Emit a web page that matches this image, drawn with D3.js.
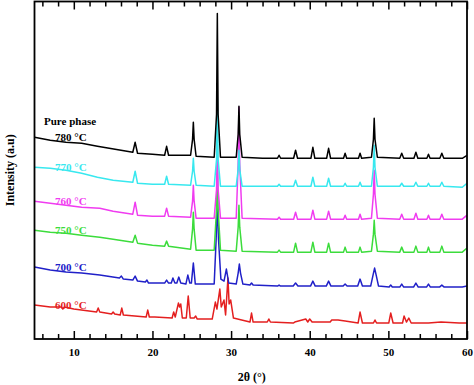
<!DOCTYPE html>
<html>
<head>
<meta charset="utf-8">
<script src="https://cdn.jsdelivr.net/npm/d3@7"></script>
<style>
  html, body { margin: 0; padding: 0; background: #fff; }
  svg { display: block; }
  text { font-family: "Liberation Serif", "Times New Roman", serif; font-weight: bold; }
</style>
</head>
<body>
<svg id="chart" width="474" height="385"></svg>
<script>
// ---- data: 2θ (degrees) vs intensity (a.u., stacked with offsets) ----
const seriesNames = ["600 °C", "700 °C", "750 °C", "760 °C", "770 °C", "780 °C"];
const seriesColors = ["#e41f1f", "#2020c8", "#3cdc3c", "#f03cf0", "#38e8ef", "#000000"];
const topNote = "Pure phase";
const xMajorTicks = [10, 20, 30, 40, 50, 60];
const xMinorTicks = [6, 8, 12, 14, 16, 18, 22, 24, 26, 28, 32, 34, 36, 38, 42, 44, 46, 48, 52, 54, 56, 58];
const xTitle = "2θ (°)";
const yTitle = "Intensity (a.u)";

const red600 = [[5,34],[7,32],[8.4,32],[8.6,30],[8.8,32],[10,30],[12.9,27],[13.1,31],[13.3,27],[14.8,25],[15.0,27],[15.2,25],[15.9,24],[16.1,31],[16.3,24],[19.2,22],[19.4,29],[19.6,22],[20.3,22],[22.5,21],[22.7,27],[22.9,22],[23.3,36],[23.45,32],[23.6,35],[23.8,21],[24.3,21],[24.55,43],[24.8,21],[25.3,21],[25.5,23],[25.7,20],[27.6,20],[28.0,37],[28.2,30],[28.57,50],[28.75,32],[28.85,34],[29.1,39],[29.3,24],[29.6,61],[29.75,35],[29.95,39],[30.3,21],[32.4,17],[32.6,26],[32.8,17],[34.6,17],[34.8,20],[35.0,17],[37.9,16],[38.1,17],[39.5,20],[39.75,17],[40.0,20],[40.3,17],[42.6,17],[42.8,19],[43.6,19],[44.5,18],[46.15,16],[46.4,27],[46.7,16],[48.1,16],[48.3,19],[48.5,16],[50.05,16],[50.3,26],[50.6,16],[51.8,16],[52.0,23],[52.3,17],[52.6,21],[52.9,16],[55.1,16],[56.7,17],[59,16],[60,16]];

const blue700 = [[5,72],[7,69],[9,67],[11,66],[13.3,64],[15.8,61],[16.05,63],[16.3,60],[17.5,59],[17.8,63],[18.1,58],[19.1,57],[19.3,59],[19.5,56],[21.55,56],[21.8,59],[22.05,56],[22.4,56],[22.6,61],[22.85,56],[23.1,56],[23.35,62],[23.6,56],[24.25,55],[24.5,64],[24.75,56],[24.95,56],[25.2,76],[25.45,55],[27.85,55],[28.1,100],[28.25,139],[28.4,100],[28.7,60],[29.1,58],[29.4,70],[29.7,56],[30.65,55],[30.9,66],[31.05,75],[31.2,66],[31.5,55],[32.4,54],[32.6,56],[32.8,54],[35.9,53],[36.1,54],[36.3,53],[37.9,53],[38.2,56],[38.5,53],[40.1,53],[40.4,58],[40.7,53],[42.1,53],[42.4,58],[42.7,53],[44.25,53],[44.5,55],[44.75,53],[46.1,53],[46.4,60],[46.7,53],[47.75,53],[48.05,64],[48.25,71],[48.45,64],[48.75,53],[50.1,52],[50.3,54],[50.5,52],[51.45,52],[51.7,55],[51.95,52],[53.2,52],[53.5,56],[53.8,52],[54.85,52],[55.1,55],[55.35,52],[56.5,52],[56.8,54],[57.1,52],[59.4,52],[60,53]];

const green750 = [[5,109],[7,107],[9,106],[11,104],[13.3,102],[15,100],[17.5,97],[17.8,104],[18.1,96],[20,94],[21.55,93],[21.8,98],[22.05,93],[24.85,90],[25.1,110],[25.2,127],[25.3,110],[25.55,89],[27.85,89],[28.15,130],[28.25,174],[28.35,130],[28.65,89],[30.65,88],[30.9,112],[31.0,134],[31.1,112],[31.4,88],[35.9,87],[36.1,89],[36.3,87],[37.95,87],[38.2,96],[38.45,87],[40.15,87],[40.4,97],[40.65,87],[42.15,87],[42.4,96],[42.65,87],[44.3,87],[44.5,92],[44.7,87],[46.2,87],[46.4,92],[46.6,87],[47.85,88],[48.1,105],[48.2,119],[48.3,105],[48.6,88],[51.45,87],[51.7,92],[51.95,87],[53.25,87],[53.5,93],[53.75,87],[54.9,87],[55.1,92],[55.3,87],[56.55,87],[56.8,93],[57.05,87],[59.4,87],[60,91]];

const magenta760 = [[5,138],[7,136],[9,134],[11,132],[13.3,131],[15,128],[17.5,125],[17.8,137],[18.1,124],[20,123],[21.55,123],[21.8,131],[22.05,123],[24.85,122],[25.1,138],[25.2,154],[25.3,138],[25.55,121],[27.85,121],[28.15,150],[28.25,189],[28.35,150],[28.65,121],[30.65,121],[30.9,175],[31.0,232],[31.1,175],[31.4,121],[35.9,120],[36.1,122],[36.3,120],[37.95,120],[38.2,127],[38.45,120],[40.15,120],[40.4,129],[40.65,120],[42.15,120],[42.4,128],[42.65,120],[44.3,120],[44.5,124],[44.7,120],[46.2,120],[46.4,125],[46.6,120],[47.85,121],[48.1,145],[48.2,169],[48.3,145],[48.6,121],[51.45,120],[51.7,125],[51.95,120],[53.25,120],[53.5,126],[53.75,120],[54.9,120],[55.1,124],[55.3,120],[56.55,120],[56.8,125],[57.05,120],[59.4,120],[60,124]];

const cyan770 = [[5,172],[7,171],[9,169],[11,166],[13,162],[15,159],[17.5,157],[17.8,168],[18.1,156],[20,155],[21.55,155],[21.8,163],[22.05,155],[24.85,154],[25.1,168],[25.2,181],[25.3,168],[25.55,154],[27.85,153],[28.15,180],[28.25,242],[28.35,180],[28.65,153],[30.65,153],[30.9,170],[31.0,189],[31.1,170],[31.4,153],[35.9,153],[36.1,155],[36.3,153],[37.95,153],[38.2,159],[38.45,153],[40.15,153],[40.4,162],[40.65,153],[42.15,153],[42.4,161],[42.65,153],[44.3,153],[44.5,156],[44.7,153],[46.2,153],[46.4,157],[46.6,153],[47.85,153],[48.1,172],[48.2,194],[48.3,172],[48.6,153],[51.45,153],[51.7,156],[51.95,153],[53.25,153],[53.5,157],[53.75,153],[54.9,153],[55.1,156],[55.3,153],[56.55,153],[56.8,157],[57.05,153],[59.4,152],[60,156]];

const black780 = [[5,202],[7,199],[9,197],[11,196],[13,193],[14.5,191],[16,189],[17.5,187],[17.8,197],[18.1,186],[20,185],[21.55,184],[21.8,193],[22.05,184],[24.85,184],[25.1,200],[25.2,217],[25.3,200],[25.55,183],[27.85,182],[28.15,225],[28.25,326],[28.35,225],[28.65,182],[30.65,182],[30.9,205],[31.0,233],[31.1,205],[31.4,182],[34,181],[35.9,181],[36.1,184],[36.3,181],[37.95,181],[38.2,189],[38.45,181],[40.15,181],[40.4,192],[40.65,181],[42.15,181],[42.4,191],[42.65,181],[44.3,181],[44.5,186],[44.7,181],[46.2,181],[46.4,186],[46.6,181],[47.85,182],[48.1,200],[48.2,221],[48.3,200],[48.6,182],[51.45,181],[51.7,186],[51.95,181],[53.25,181],[53.5,187],[53.75,181],[54.9,181],[55.1,185],[55.3,181],[56.55,181],[56.8,186],[57.05,181],[59.4,181],[60,184]];

const seriesData = [red600, blue700, green750, magenta760, cyan770, black780];

(function draw() {
  const svg = d3.select("#chart");
  const mLeft = 34.5, mRight = 467, mTop = 1.5, mBottom = 339;

  const x = d3.scaleLinear().domain([5, 60]).range([mLeft, mRight]);
  const y = d3.scaleLinear().domain([0, 338]).range([mBottom, mTop]);

  svg.append("clipPath").attr("id", "clip")
    .append("rect").attr("x", mLeft).attr("y", mTop).attr("width", mRight - mLeft).attr("height", mBottom - mTop);

  const line = d3.line().x(d => x(d[0])).y(d => y(d[1]));

  const lines = svg.append("g").attr("clip-path", "url(#clip)");
  seriesData.forEach((s, i) => {
    lines.append("path")
      .attr("d", line(s))
      .attr("fill", "none")
      .attr("stroke", seriesColors[i])
      .attr("stroke-width", 1.5)
      .attr("stroke-linejoin", "round");
  });

  function styleAxis(g) {
    g.select(".domain").remove();
    g.selectAll("line").attr("stroke", "#000").attr("stroke-width", 1.5);
  }
  svg.append("g").attr("transform", `translate(0,${mBottom})`)
    .call(d3.axisBottom(x).tickValues(xMinorTicks).tickSize(-5).tickFormat(""))
    .call(styleAxis);
  const bAxis = svg.append("g").attr("transform", `translate(0,${mBottom})`)
    .call(d3.axisBottom(x).tickValues(xMajorTicks).tickSize(-8).tickPadding(9).tickFormat(d3.format("d")))
    .call(styleAxis);
  bAxis.selectAll("text")
    .attr("font-size", 11).attr("fill", "#000")
    .style("font-family", '"Liberation Serif", "Times New Roman", serif').style("font-weight", "bold");

  svg.append("g").attr("transform", `translate(0,${mTop})`)
    .call(d3.axisTop(x).tickValues(xMinorTicks).tickSize(-5).tickFormat(""))
    .call(styleAxis);
  svg.append("g").attr("transform", `translate(0,${mTop})`)
    .call(d3.axisTop(x).tickValues(xMajorTicks).tickSize(-8).tickFormat(""))
    .call(styleAxis);

  svg.append("rect")
    .attr("x", mLeft).attr("y", mTop).attr("width", mRight - mLeft).attr("height", mBottom - mTop)
    .attr("fill", "none").attr("stroke", "#000").attr("stroke-width", 1.8);

  seriesData.forEach((s, i) => {
    svg.append("text")
      .attr("x", 55)
      .attr("y", y(s[0][1]) + 1)
      .attr("dominant-baseline", "middle")
      .attr("font-size", 11)
      .attr("fill", seriesColors[i])
      .text(seriesNames[i]);
  });
  svg.append("text")
    .attr("x", 44)
    .attr("y", y(black780[0][1]) - 15)
    .attr("dominant-baseline", "middle")
    .attr("font-size", 11)
    .attr("fill", "#000")
    .text(topNote);

  svg.append("text")
    .attr("x", (mLeft + mRight) / 2 + 1)
    .attr("y", 381)
    .attr("text-anchor", "middle")
    .attr("font-size", 12)
    .text(xTitle);
  svg.append("text")
    .attr("transform", `translate(14,${(mTop + mBottom) / 2}) rotate(-90)`)
    .attr("text-anchor", "middle")
    .attr("font-size", 12)
    .text(yTitle);
})();
</script>
</body>
</html>
